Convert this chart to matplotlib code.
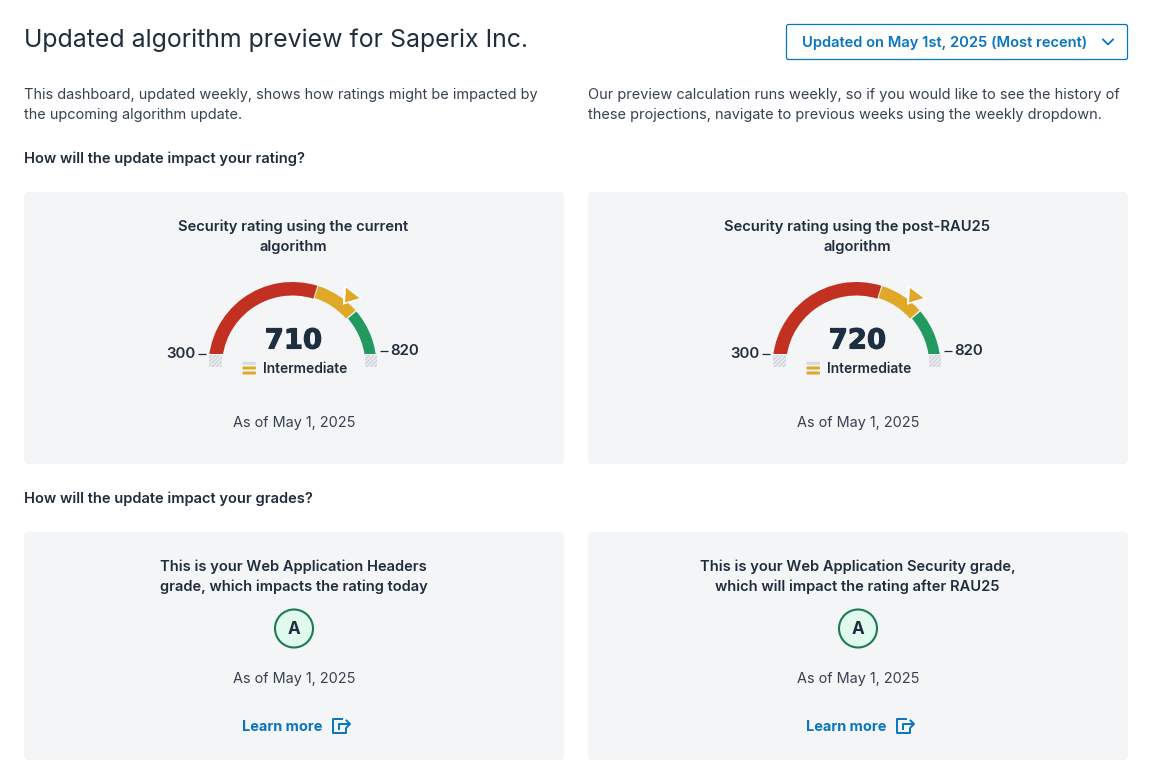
import matplotlib
matplotlib.use("Agg")
import matplotlib.pyplot as plt
import matplotlib.patheffects as pe
from matplotlib.patches import Wedge, Polygon, Rectangle, Circle, FancyBboxPatch
import numpy as np

plt.rcParams['font.family'] = ['Inter', 'DejaVu Sans']
plt.rcParams['hatch.linewidth'] = 1.2

title = "Updated algorithm preview for Saperix Inc."
dropdown = "Updated on May 1st, 2025 (Most recent)"
intro_left = ["This dashboard, updated weekly, shows how ratings might be impacted by",
              "the upcoming algorithm update."]
intro_right = ["Our preview calculation runs weekly, so if you would like to see the history of",
               "these projections, navigate to previous weeks using the weekly dropdown."]
head_rating = "How will the update impact your rating?"
head_grades = "How will the update impact your grades?"
gauge_titles = [["Security rating using the current", "algorithm"],
                ["Security rating using the post-RAU25", "algorithm"]]
grade_titles = [["This is your Web Application Headers", "grade, which impacts the rating today"],
                ["This is your Web Application Security grade,", "which will impact the rating after RAU25"]]
scores = [710, 720]
score_label = "Intermediate"
range_min = "300"
range_max = "820"
as_of = "As of May 1, 2025"
grade = "A"
learn = "Learn more"

# gauge segments, degrees on the arc
seg_start = [180, 72, 40.5]
seg_end = [72.8, 41.5, 0]
seg_width = [13.5, 12.5, 11]
seg_colors = ['#c23022', '#e0a829', '#22995f']
marker_angle = [50, 50]

DARK = '#1f2d3d'
BODY = '#36424f'
BLUE = '#0875bd'
CARD = '#f4f5f7'

fig = plt.figure(figsize=(11.51, 7.81), dpi=100)
ax = fig.add_axes([0, 0, 1, 1])
ax.set_xlim(0, 1151)
ax.set_ylim(781, 0)
ax.axis('off')


def px(s):
    return s * 0.72


def card(x, y, w, h):
    ax.add_patch(FancyBboxPatch((x + 5, y + 5), w - 10, h - 10, boxstyle="round,pad=5,rounding_size=5",
                                fc=CARD, ec='none'))


def gauge(cx, score, angle):
    cy = 366
    R = 84
    clip = Rectangle((cx - 100, 270), 200, 84.3, transform=ax.transData)
    for a0, a1, w, c in zip(seg_start, seg_end, seg_width, seg_colors):
        wedge = Wedge((cx, cy), R, -a0, -a1, width=w, fc=c, ec='none')
        ax.add_patch(wedge)
        wedge.set_clip_path(clip)
    # hatched stubs at both ends
    for x0, x1 in [(cx - 83.5, cx - 70.5), (cx + 72.5, cx + 84.5)]:
        ax.add_patch(Rectangle((x0, 355), x1 - x0, 11.5, fc='#eef0f3', ec='#cfd6dd', lw=0,
                               hatch='////////'))
    # score marker
    t = np.radians(angle)
    mx, my = cx + 91 * np.cos(t), cy - 91 * np.sin(t)
    ax.add_patch(Polygon([(mx - 7.5, my - 11.5), (mx + 11.5, my + 2), (mx - 8, my + 8.5)], closed=True,
                         fc='white', ec='none', zorder=4))
    ax.add_patch(Polygon([(mx - 5, my - 8.5), (mx + 8.5, my + 1.8), (mx - 6, my + 6.2)], closed=True,
                         fc='#e0a829', ec='none', zorder=5))
    num = ax.text(cx + 1, 340.5, str(score), fontsize=px(27.5), fontweight='bold', family='DejaVu Sans',
                  color='#1c2e40', ha='center', va='center')
    num.set_path_effects([pe.withStroke(linewidth=0.8, foreground='#1c2e40')])
    ax.text(cx - 97, 353.5, range_min, fontsize=px(15), fontweight='semibold', color=DARK, ha='right', va='center')
    ax.text(cx + 97.5, 351, range_max, fontsize=px(15), fontweight='semibold', color=DARK, ha='left', va='center')
    ax.plot([cx - 94.5, cx - 86], [353.5, 353.5], color=DARK, lw=0.9, solid_capstyle='butt')
    ax.plot([cx + 88, cx + 96], [350.5, 350.5], color=DARK, lw=0.9, solid_capstyle='butt')
    # intermediate icon
    for yy, c in zip([363.3, 368, 373], ['#d5dbe1', '#e0a829', '#e0a829']):
        ax.add_patch(FancyBboxPatch((cx - 49.5, yy - 1), 12.5, 2, boxstyle="round,pad=0.5,rounding_size=1",
                                    fc=c, ec='none'))
    ax.text(cx - 29.5, 369, score_label, fontsize=px(13.8), fontweight='semibold', color=DARK, va='center')


def export_icon(x, y):
    ax.plot([x + 9, x, x, x + 13, x + 13], [y + 1, y + 1, y + 15, y + 15, y + 11], color=BLUE, lw=1.4)
    ax.plot([x + 5.5, x + 5.5, x + 16], [y + 11, y + 6, y + 6], color=BLUE, lw=1.4)
    ax.plot([x + 13, x + 16.5, x + 13], [y + 2.5, y + 6, y + 9.5], color=BLUE, lw=1.4)


ax.text(24, 40, title, fontsize=px(24.85), color=DARK, va='center')

ax.add_patch(FancyBboxPatch((786.5, 24.5), 341, 35, boxstyle="round,pad=0,rounding_size=2", fc='white', ec=BLUE, lw=0.9))
ax.text(802, 43, dropdown, fontsize=px(14.7), fontweight='semibold', color=BLUE, va='center')
ax.plot([1103, 1108, 1113], [39.5, 44.5, 39.5], color=BLUE, lw=1.3)

for i, line in enumerate(intro_left):
    ax.text(24, 95 + 20 * i, line, fontsize=px(14.48), color=BODY, va='center')
for i, line in enumerate(intro_right):
    ax.text(588, 95 + 20 * i, line, fontsize=px(14.53), color=BODY, va='center')

ax.text(24, 159, head_rating, fontsize=px(14.7), fontweight='semibold', color=DARK, va='center')
ax.text(24, 499, head_grades, fontsize=px(14.7), fontweight='semibold', color=DARK, va='center')

card_x = [24, 588]
card_w = [540, 540]
centers = [293.5, 857.5]
for i in range(2):
    card(card_x[i], 192, card_w[i], 272)
    card(card_x[i], 532, card_w[i], 228)
    c = centers[i]
    for j, line in enumerate(gauge_titles[i]):
        ax.text(c, 227 + 20 * j, line, fontsize=px(14.75), fontweight='semibold', color=DARK, ha='center', va='center')
    gauge(c - 1, scores[i], marker_angle[i])
    ax.text(c + 0.5, 423, as_of, fontsize=px(14.45), color=BODY, ha='center', va='center')
    for j, line in enumerate(grade_titles[i]):
        ax.text(c, 567 + 20 * j, line, fontsize=px(14.66), fontweight='semibold', color=DARK, ha='center', va='center')
    ax.add_patch(Circle((c + 0.5, 628.5), 19, fc='#e0faee', ec='#1c7a55', lw=1.5))
    ax.text(c + 0.5, 629, grade, fontsize=px(17), fontweight='bold', color=DARK, ha='center', va='center')
    ax.text(c + 0.5, 679, as_of, fontsize=px(14.45), color=BODY, ha='center', va='center')
    ax.text(c - 51.5, 727, learn, fontsize=px(14.5), fontweight='bold', color=BLUE, va='center')
    export_icon(c + 40, 718)

fig.savefig("out.png", dpi=100, facecolor='white')
